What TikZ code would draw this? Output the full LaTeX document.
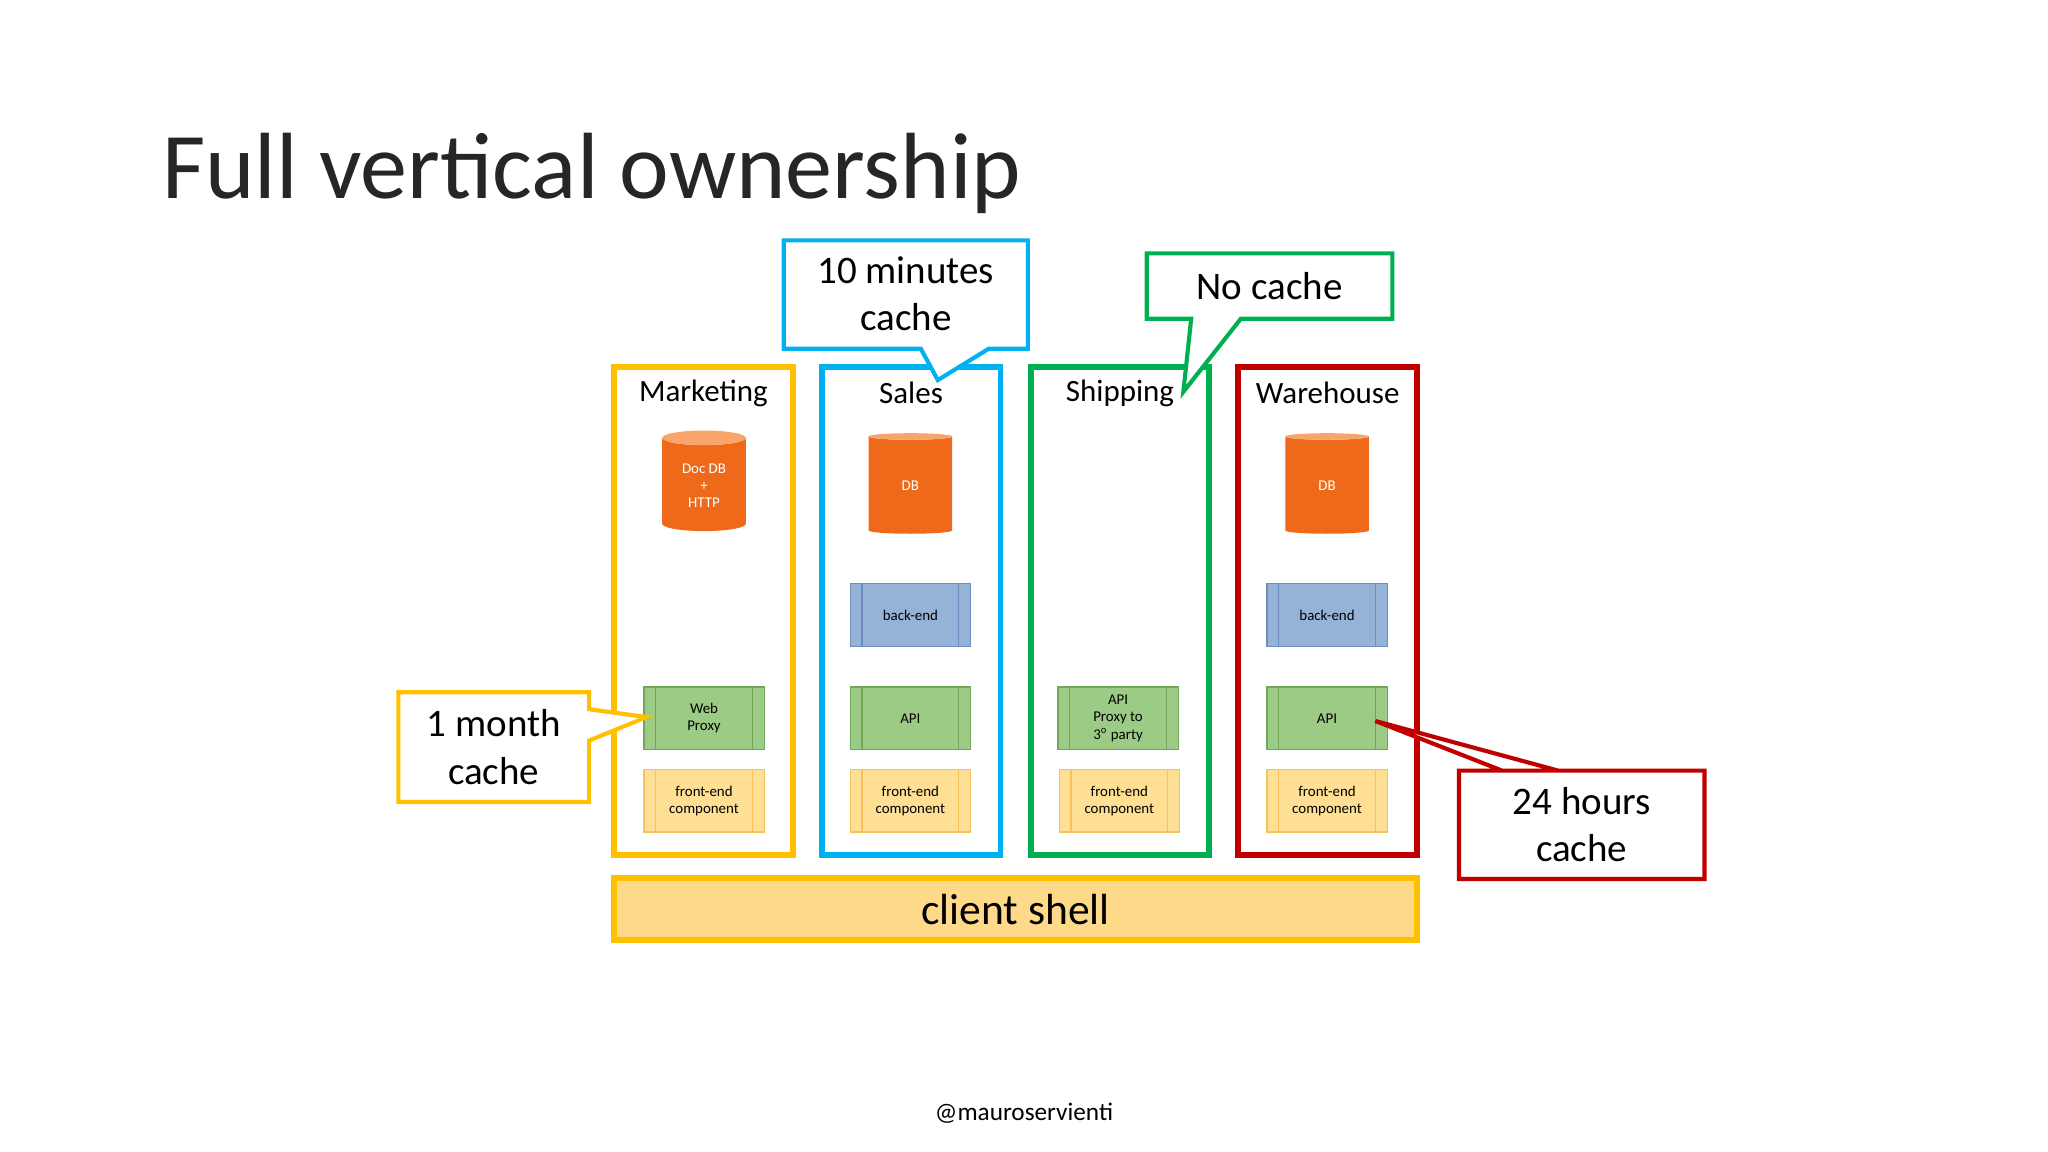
\documentclass[tikz,border=0pt]{standalone}
\usepackage{fontspec}
\setmainfont{Carlito}
\usetikzlibrary{shapes.geometric}
\definecolor{cy}{HTML}{FFC000}
\definecolor{cb}{HTML}{00B0F0}
\definecolor{cg}{HTML}{00B050}
\definecolor{cr}{HTML}{C00000}
\definecolor{org}{HTML}{EE6A1A}
\definecolor{orgl}{HTML}{F9A46A}
\definecolor{bef}{HTML}{95B3D7}
\definecolor{bed}{HTML}{6C8EBF}
\definecolor{apf}{HTML}{9BCB85}
\definecolor{apd}{HTML}{70A85A}
\definecolor{fef}{HTML}{FFDF94}
\definecolor{fed}{HTML}{F2C45A}
\definecolor{shell}{HTML}{FFD98A}
\begin{document}
\begin{tikzpicture}[x=0.02cm,y=-0.02cm,
 col/.style={draw=#1,line width=2.6pt,minimum width=2.74cm,minimum height=7.48cm,inner sep=0},
 ttl/.style={font=\fontsize{13.5}{15}\selectfont},
 comp/.style={draw=#1,line width=0.5pt,minimum width=1.84cm,minimum height=0.96cm,align=center,
   font=\fontsize{6.5}{7.5}\selectfont,inner sep=1pt,
   path picture={\draw[#1,line width=0.5pt]
     ([xshift=0.18cm]path picture bounding box.north west)--([xshift=0.18cm]path picture bounding box.south west)
     ([xshift=-0.18cm]path picture bounding box.north east)--([xshift=-0.18cm]path picture bounding box.south east);}},
 be/.style={comp=bed,fill=bef},
 ap/.style={comp=apd,fill=apf},
 fe/.style={comp=fed,fill=fef},
 db/.style={cylinder,shape border rotate=90,aspect=0.3,minimum width=1.28cm,minimum height=1.54cm,
   cylinder uses custom fill,cylinder body fill=org,cylinder end fill=orgl,draw=none,
   text=white,font=\fontsize{6.5}{7.5}\selectfont,align=center,inner sep=1pt},
 call/.style={line width=1.8pt,fill=white},
 ctxt/.style={font=\fontsize{17}{20.5}\selectfont,align=center}]
\useasboundingbox (0,0) rectangle (1568,882);
\fill[white] (0,0) rectangle (1568,882);
\node[anchor=base west,font=\fontsize{41}{46}\selectfont,text=black!85] (title) at (118,152) {Full vertical ownership};
% columns
\node[col=cy] (cm) at (538.5,468) {};
\node[col=cb] (cs) at (697.5,468) {};
\node[col=cg] (ch) at (857.5,468) {};
\node[col=cr] (cw) at (1016.5,468) {};
\node[ttl] (tm) at (538.5,301) {Marketing};
\node[ttl] (ts) at (697.5,301) {Sales};
\node[ttl] (th) at (857.5,301) {Shipping};
\node[ttl] (tw) at (1016.5,301) {Warehouse};
% dbs
\node[db] (dm) at (539,372) {Doc DB\\+\\HTTP};
\node[db] (ds) at (697,372) {DB};
\node[db] (dw) at (1016,372) {DB};
% backends
\node[be] (bs) at (697,471) {back-end};
\node[be] (bw) at (1016,471) {back-end};
% api
\node[ap] (am) at (539,550) {Web\\Proxy};
\node[ap] (as) at (697,550) {API};
\node[ap] (ah) at (856,550) {API\\Proxy to\\3\textsuperscript{o} party};
\node[ap] (aw) at (1016,550) {API};
% frontends
\node[fe] (fm) at (539,613) {front-end\\component};
\node[fe] (fs) at (697,613) {front-end\\component};
\node[fe] (fh) at (857,613) {front-end\\component};
\node[fe] (fw) at (1016,613) {front-end\\component};
% client shell
\node[draw=cy,fill=shell,line width=2.6pt,minimum width=12.3cm,minimum height=0.96cm,
  font=\fontsize{19}{23}\selectfont] (shellnode) at (777.5,696) {client shell};
% callouts
\draw[call,draw=cb] (600,184)--(787,184)--(787,267)--(757,267)--(718,291)--(705,267)--(600,267)--cycle;
\node[ctxt] (c10) at (693.5,225) {10 minutes\\cache};
\draw[call,draw=cg] (878,194)--(1066,194)--(1066,244)--(950,244)--(906,300)--(912,244)--(878,244)--cycle;
\node[ctxt] (cno) at (972,219) {No cache};
\draw[call,draw=cy] (305,530)--(451,530)--(451,543)--(495,549)--(451,567)--(451,614)--(305,614)--cycle;
\node[ctxt] (c1m) at (378,572) {1 month\\cache};
\draw[call,draw=cr] (1117,590)--(1193,590)--(1053,552)--(1150,590)--(1117,590)--(1117,673)--(1305,673)--(1305,590)--(1193,590);
\fill[white] (1119,592) rectangle (1303,671);
\node[ctxt] (c24) at (1211,631) {24 hours\\cache};
\node[font=\fontsize{11}{13}\selectfont] (handle) at (784,852) {@mauroservienti};
\end{tikzpicture}
\end{document}
